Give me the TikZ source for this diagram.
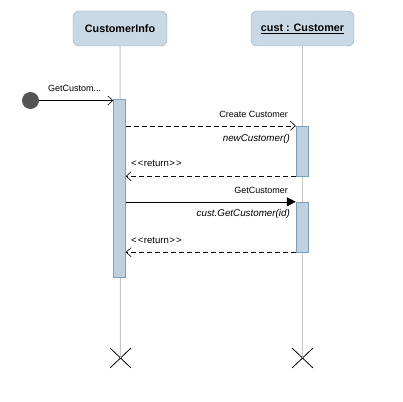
\documentclass[tikz,border=0pt]{standalone}
\usepackage{fontspec}
\setmainfont{Liberation Sans}
\usetikzlibrary{arrows.meta,shapes.misc}

\definecolor{fondtete}{HTML}{C8D8E5}
\definecolor{bordtete}{HTML}{90AAC0}
\definecolor{fondactiv}{HTML}{BFD0DF}
\definecolor{bordactiv}{HTML}{7E9DB8}
\definecolor{gristrait}{HTML}{C4C4C4}
\definecolor{grisdebut}{HTML}{555555}

\newcommand{\retourtxt}{{\fontsize{9.6}{11}\selectfont\textless\kern1pt\textless\kern0.5pt return\kern0.5pt\textgreater\kern1pt\textgreater}}

\tikzstyle{tete}=[draw=bordtete, fill=fondtete, rounded corners=6pt, minimum width=94pt, minimum height=35pt, font=\bfseries\fontsize{10.8}{12}\selectfont]
\tikzstyle{activ}=[draw=bordactiv, fill=fondactiv, minimum width=12pt, inner sep=0pt]
\tikzstyle{vie}=[draw=gristrait, line width=1pt]
\tikzstyle{fin}=[draw, cross out, minimum width=20pt, minimum height=19pt, inner sep=0pt, line width=0.8pt]
\tikzstyle{appel}=[-{Straight Barb[length=5pt,width=9pt]}, line width=0.6pt]
\tikzstyle{synchro}=[-{Triangle[length=9pt,width=9pt]}, line width=0.6pt]
\tikzstyle{retour}=[appel, dash pattern=on 5pt off 3pt]
\tikzstyle{msg}=[inner sep=0pt, font=\fontsize{9}{11}\selectfont]
\tikzstyle{oper}=[inner sep=0pt, font=\itshape\fontsize{9.8}{12}\selectfont]

\begin{document}
\begin{tikzpicture}[x=1pt, y=-1pt]
    \useasboundingbox (0,0) rectangle (403,401);

    % objets
    \node[tete] (info) at (120,28.5) {CustomerInfo};
    \node[tete, minimum width=103pt] (cust) at (302.5,28.5) {\underline{cust : Customer}};

    % fins de vie
    \node[fin] (finInfo) at (120.5,358) {};
    \node[fin] (finCust) at (302.5,358) {};

    \draw[vie] (info.south) -- (finInfo.center);
    \draw[vie] (cust.south) -- (finCust.center);

    % activations
    \node[activ, minimum height=178pt] (act0) at (119.5,188.5) {};
    \node[activ, minimum height=50pt] (actA) at (302,151) {};
    \node[activ, minimum height=50pt] (actB) at (302,227) {};

    % message initial
    \node[circle, fill=grisdebut, minimum size=17pt, inner sep=0pt] (debut) at (30.5,100.5) {};
    \draw[appel] (debut) -- (debut -| act0.west);
    \node[msg, anchor=west] (m0) at (48,88.5) {GetCustom...};

    % creation
    \draw[retour] (act0.east |- actA.north) -- (actA.north west);
    \node[msg, anchor=east] (m1) at (288,114.5) {Create Customer};
    \node[oper, anchor=east] (o1) at (290,138.5) {newCustomer()};
    \draw[retour] (actA.south west) -- (act0.east |- actA.south);
    \node[msg, anchor=west] (r1) at (131,163) {\retourtxt};

    % appel GetCustomer
    \draw[synchro] (act0.east |- actB.north) -- (actB.north west);
    \node[msg, anchor=east] (m2) at (288,190) {GetCustomer};
    \node[oper, anchor=east] (o2) at (290,214) {cust.GetCustomer(id)};
    \draw[retour] (actB.south west) -- (act0.east |- actB.south);
    \node[msg, anchor=west] (r2) at (131,240) {\retourtxt};
\end{tikzpicture}
\end{document}
